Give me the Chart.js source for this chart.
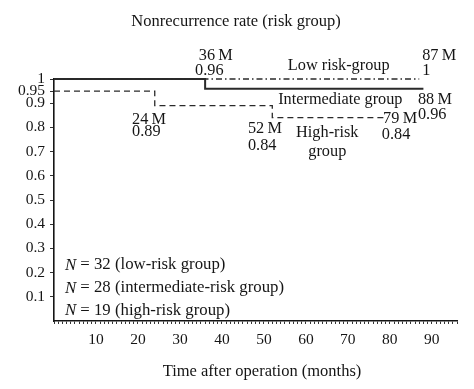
<!DOCTYPE html>
<html><head><meta charset="utf-8">
<script src="https://cdn.jsdelivr.net/npm/chart.js@4.4.0/dist/chart.umd.min.js"></script>
<style>html,body{margin:0;padding:0;background:#fff;overflow:hidden}canvas{display:block}</style>
</head><body>
<canvas id="c" width="474" height="389"></canvas>
<script>
// ---- data ----
const lowMonths = [0, 87];
const lowRate = [1, 1];
const intMonths = [0, 36, 88];
const intRate = [1, 0.96, 0.96];
const highMonths = [0, 24, 52, 79];
const highRate = [0.95, 0.89, 0.84, 0.84];
const yTickValues = [0.1, 0.2, 0.3, 0.4, 0.5, 0.6, 0.7, 0.8, 0.9, 0.95, 1];
const xTickLabels = [10, 20, 30, 40, 50, 60, 70, 80, 90];
const groupSizes = [32, 28, 19];
const groupNames = ['low-risk group', 'intermediate-risk group', 'high-risk group'];
const chartTitle = 'Nonrecurrence rate (risk group)';
const xTitle = 'Time after operation (months)';

const serif = '"Liberation Serif", "DejaVu Serif", serif';
const ink = '#151515';
const M = v => v + '\u2009M';

function pts(xs, ys) { return xs.map((v, i) => ({ x: v, y: ys[i] })); }

// annotation texts placed in data coordinates
const annotations = [
  { x: 34.5, y: 1.095, text: M(intMonths[1]) },
  { x: 33.6, y: 1.035, text: intRate[1].toFixed(2) },
  { x: 87.7, y: 1.095, text: M(lowMonths[1]) },
  { x: 87.7, y: 1.035, text: String(lowRate[1]) },
  { x: 55.7, y: 1.054, text: 'Low risk-group' },
  { x: 53.4, y: 0.913, text: 'Intermediate group' },
  { x: 86.7, y: 0.913, text: M(intMonths[2]) },
  { x: 86.7, y: 0.851, text: intRate[2].toFixed(2) },
  { x: 18.6, y: 0.831, text: M(highMonths[1]) },
  { x: 18.6, y: 0.781, text: highRate[1].toFixed(2) },
  { x: 46.2, y: 0.793, text: M(highMonths[2]) },
  { x: 46.2, y: 0.723, text: highRate[2].toFixed(2) },
  { x: 65.1, y: 0.777, text: 'High-risk', align: 'center' },
  { x: 65.1, y: 0.698, text: 'group', align: 'center' },
  { x: 78.4, y: 0.835, text: M(highMonths[3]) },
  { x: 78.1, y: 0.769, text: highRate[3].toFixed(2) }
];
const nRows = [0.231, 0.136, 0.045];

const textPlugin = {
  id: 'texts',
  afterDraw(chart) {
    const { ctx, scales: { x, y } } = chart;
    ctx.save();
    ctx.fillStyle = ink;
    ctx.font = '16.3px ' + serif;
    ctx.textBaseline = 'middle';
    for (const a of annotations) {
      ctx.textAlign = a.align || 'left';
      ctx.fillText(a.text, x.getPixelForValue(a.x), y.getPixelForValue(a.y));
    }
    ctx.textAlign = 'left';
    groupSizes.forEach((n, i) => {
      const px = x.getPixelForValue(2.6), py = y.getPixelForValue(nRows[i]);
      ctx.font = 'italic 16.8px ' + serif;
      ctx.fillText('N', px, py);
      const w = ctx.measureText('N').width;
      ctx.font = '16.8px ' + serif;
      ctx.fillText(' = ' + n + ' (' + groupNames[i] + ')', px + w, py);
    });
    ctx.textAlign = 'center';
    ctx.font = '16.5px ' + serif;
    ctx.fillText(chartTitle, 236, 22);
    ctx.fillText(xTitle, 262, 372);
    ctx.restore();
  }
};

const lineBase = { pointRadius: 0, stepped: true, fill: false, borderColor: '#2a2a2a', clip: false };

new Chart(document.getElementById('c'), {
  type: 'line',
  data: {
    datasets: [
      Object.assign({ label: 'Low risk-group', data: pts(lowMonths, lowRate), borderWidth: 1.3, borderDash: [6, 3, 1.5, 3] }, lineBase),
      Object.assign({ label: 'Intermediate group', data: pts(intMonths, intRate), borderWidth: 2 }, lineBase),
      Object.assign({ label: 'High-risk group', data: pts(highMonths, highRate), borderWidth: 1.3, borderDash: [6, 4] }, lineBase)
    ]
  },
  plugins: [textPlugin],
  options: {
    responsive: false,
    devicePixelRatio: 1,
    animation: false,
    layout: { padding: { left: 0, right: 17, top: 79, bottom: 0 } },
    plugins: { legend: { display: false }, tooltip: { enabled: false }, title: { display: false } },
    scales: {
      x: {
        type: 'linear', min: 0, max: 96,
        afterFit(s) { s.height = 68; },
        afterBuildTicks(s) { const t = []; for (let i = 0; i <= 96; i++) t.push({ value: i }); s.ticks = t; },
        ticks: {
          autoSkip: false, maxRotation: 0, padding: 7, color: ink,
          font: { family: serif, size: 15.5 },
          callback: v => xTickLabels.includes(v) ? String(v) : ''
        },
        grid: { drawOnChartArea: false, drawTicks: true, tickLength: 3, color: '#333', lineWidth: 1 },
        border: { display: true, color: ink, width: 1.6 },
        title: { display: false }
      },
      y: {
        type: 'linear', min: 0, max: 1,
        afterFit(s) { s.width = 54; },
        afterBuildTicks(s) { s.ticks = yTickValues.map(v => ({ value: v })); },
        ticks: {
          autoSkip: false, padding: 5, color: ink,
          font: { family: serif, size: 15.5 },
          callback: v => String(v)
        },
        grid: { drawOnChartArea: false, drawTicks: true, tickLength: 4, color: '#333', lineWidth: 1 },
        border: { display: true, color: ink, width: 1.6 }
      }
    }
  }
});
</script>
</body></html>
